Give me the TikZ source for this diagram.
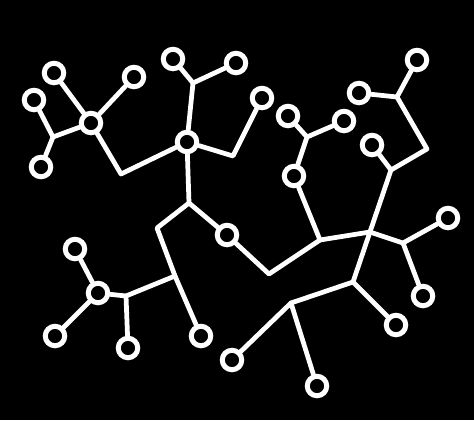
\documentclass[tikz,border=0pt]{standalone}
\usepackage{tikz}
\usetikzlibrary{positioning}

\begin{document}
\begin{tikzpicture}[x=0.02cm, y=-0.02cm,
    atom/.style={circle, draw=white, line width=0.1cm, minimum size=0.39cm, inner sep=0pt},
    bond/.style={white, line width=0.095cm, line cap=round, line join=round}]
  \fill[black] (0,0) rectangle (474,420);
  % hubs
  \node[atom] (h1) at (91,123) {};
  \node[atom] (h2) at (187,142) {};
  \node[atom] (h3) at (98,293) {};
  % end atoms
  \node[atom] (a1) at (54,73) {};
  \node[atom] (a2) at (134,77) {};
  \node[atom] (a3) at (34,100) {};
  \node[atom] (a4) at (41,167) {};
  \node[atom] (a5) at (173,59) {};
  \node[atom] (a6) at (236,63) {};
  \node[atom] (a7) at (262,98) {};
  \node[atom] (a8) at (227,235) {};
  \node[atom] (a9) at (75,249) {};
  \node[atom] (a10) at (55,336) {};
  \node[atom] (a11) at (128,348) {};
  \node[atom] (a12) at (201,336) {};
  \node[atom] (a13) at (288,116) {};
  \node[atom] (a14) at (344,121) {};
  \node[atom] (a15) at (294,176) {};
  \node[atom] (a16) at (417,60) {};
  \node[atom] (a17) at (359,93) {};
  \node[atom] (a18) at (372,145) {};
  \node[atom] (a19) at (448,218) {};
  \node[atom] (a20) at (423,296) {};
  \node[atom] (a21) at (396,325) {};
  \node[atom] (a22) at (232,360) {};
  \node[atom] (a23) at (317,386) {};
  % junctions
  \coordinate (j1) at (53,137);
  \coordinate (j2) at (121,174);
  \coordinate (j3) at (193,83);
  \coordinate (j4) at (233,156);
  \coordinate (j5) at (189,203);
  \coordinate (j6) at (157,228);
  \coordinate (j7) at (175,276);
  \coordinate (j8) at (126,296);
  \coordinate (j9) at (307,137);
  \coordinate (j10) at (320,240);
  \coordinate (j11) at (269,274);
  \coordinate (j12) at (370,232);
  \coordinate (j13) at (403,243);
  \coordinate (j14) at (391,170);
  \coordinate (j15) at (427,149);
  \coordinate (j16) at (397,97);
  \coordinate (j17) at (353,282);
  \coordinate (j18) at (291,303);

  \draw[bond] (a3) -- (j1) -- (a4);
  \draw[bond] (j1) -- (h1);
  \draw[bond] (a1) -- (h1) -- (a2);
  \draw[bond] (h1) -- (j2) -- (h2);
  \draw[bond] (a5) -- (j3) -- (a6);
  \draw[bond] (j3) -- (h2);
  \draw[bond] (h2) -- (j4) -- (a7);
  \draw[bond] (h2) -- (j5) -- (a8);
  \draw[bond] (j5) -- (j6) -- (j7) -- (a12);
  \draw[bond] (j7) -- (j8) -- (a11);
  \draw[bond] (j8) -- (h3);
  \draw[bond] (a9) -- (h3) -- (a10);
  \draw[bond] (a13) -- (j9) -- (a14);
  \draw[bond] (j9) -- (a15);
  \draw[bond] (a15) -- (j10) -- (j11) -- (a8);
  \draw[bond] (j10) -- (j12) -- (j13) -- (a19);
  \draw[bond] (j13) -- (a20);
  \draw[bond] (a18) -- (j14) -- (j15) -- (j16) -- (a16);
  \draw[bond] (j16) -- (a17);
  \draw[bond] (j14) -- (j17) -- (a21);
  \draw[bond] (j17) -- (j18) -- (a22);
  \draw[bond] (j18) -- (a23);
\end{tikzpicture}
\end{document}
